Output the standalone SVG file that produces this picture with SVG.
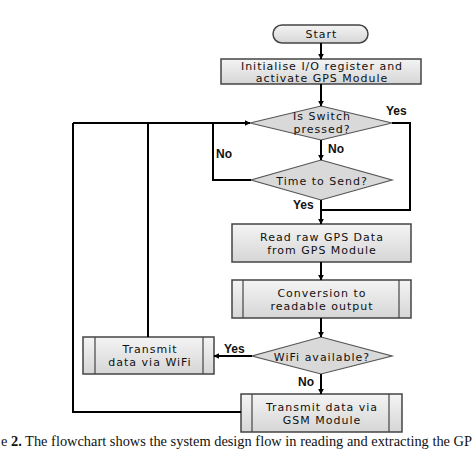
<svg xmlns="http://www.w3.org/2000/svg" width="474" height="474" viewBox="0 0 474 474">
<defs>
<linearGradient id="g" x1="0" y1="0" x2="0" y2="1">
<stop offset="0" stop-color="#f4f4f4"/>
<stop offset="1" stop-color="#d6d6d6"/>
</linearGradient>
<marker id="ah" viewBox="0 0 10 10" refX="9" refY="5" markerWidth="6" markerHeight="6" orient="auto" markerUnits="userSpaceOnUse">
<path d="M0,0 L10,5 L0,10 z" fill="#000"/>
</marker>
</defs>
<style>
.box{fill:url(#g);stroke:#444;stroke-width:1.5}
.dia{fill:#d9d9d9;stroke:#555;stroke-width:1.2}
.in{stroke:#444;stroke-width:1.2}
.t{font-family:"DejaVu Sans","Open Sans",sans-serif;font-size:11px;fill:#111;text-anchor:middle;letter-spacing:1px}
.lb{font-family:"Liberation Sans",Arial,sans-serif;font-size:12px;font-weight:bold;fill:#111}
.c{stroke:#000;stroke-width:2;fill:none}
.cap{font-family:"Liberation Serif","Times New Roman",serif;font-size:14.5px;fill:#111}
</style>
<rect width="474" height="474" fill="#fff"/>
<g id="start">
<rect class="box" x="273" y="25" width="95" height="18" rx="9"/>
<text class="t" x="321.5" y="38">Start</text>
</g>
<g id="init">
<rect class="box" x="221" y="59" width="200" height="25"/>
<text class="t" x="322" y="69.5">Initialise I/O register and</text>
<text class="t" x="322" y="82">activate GPS Module</text>
</g>
<g id="switch">
<polygon class="dia" points="321,106 392,123 321,140 250,123"/>
<text class="t" x="322" y="120">Is Switch</text>
<text class="t" x="322" y="133">pressed?</text>
</g>
<g id="time">
<polygon class="dia" points="321,160 392,180 321,200 251,180"/>
<text class="t" x="322" y="184.5">Time to Send?</text>
</g>
<g id="read">
<rect class="box" x="232" y="224" width="179" height="38"/>
<text class="t" x="322" y="241">Read raw GPS Data</text>
<text class="t" x="322" y="254">from GPS Module</text>
</g>
<g id="convert">
<rect class="box" x="232" y="280" width="179" height="38"/>
<line class="in" x1="243" y1="280" x2="243" y2="318"/>
<line class="in" x1="399" y1="280" x2="399" y2="318"/>
<text class="t" x="322" y="297">Conversion to</text>
<text class="t" x="322" y="310">readable output</text>
</g>
<g id="wifiq">
<polygon class="dia" points="321,337 392,356 321,374 252,356"/>
<text class="t" x="322" y="360.5">WiFi available?</text>
</g>
<g id="wifi">
<rect class="box" x="83" y="337" width="131" height="37"/>
<line class="in" x1="95" y1="337" x2="95" y2="374"/>
<line class="in" x1="203" y1="337" x2="203" y2="374"/>
<text class="t" x="150" y="353">Transmit</text>
<text class="t" x="150" y="366">data via WiFi</text>
</g>
<g id="gsm">
<rect class="box" x="241" y="394" width="161" height="38"/>
<line class="in" x1="252" y1="394" x2="252" y2="432"/>
<line class="in" x1="389" y1="394" x2="389" y2="432"/>
<text class="t" x="322" y="411">Transmit data via</text>
<text class="t" x="322" y="424">GSM Module</text>
</g>
<g id="connectors">
<line class="c" x1="321" y1="43" x2="321" y2="59" marker-end="url(#ah)"/>
<line class="c" x1="321" y1="84" x2="321" y2="106" marker-end="url(#ah)"/>
<line class="c" x1="321" y1="140" x2="321" y2="160" marker-end="url(#ah)"/>
<polyline class="c" points="392,123 410,123 410,210 321,210"/>
<line class="c" x1="321" y1="200" x2="321" y2="224" marker-end="url(#ah)"/>
<polyline class="c" points="251,180 213,180 213,123"/>
<polyline class="c" points="73,123 250,123" marker-end="url(#ah)"/>
<line class="c" x1="321" y1="262" x2="321" y2="280" marker-end="url(#ah)"/>
<line class="c" x1="321" y1="318" x2="321" y2="337" marker-end="url(#ah)"/>
<line class="c" x1="252" y1="356" x2="214" y2="356" marker-end="url(#ah)"/>
<line class="c" x1="148" y1="337" x2="148" y2="123"/>
<line class="c" x1="321" y1="374" x2="321" y2="394" marker-end="url(#ah)"/>
<polyline class="c" points="241,412 73,412 73,123"/>
<text class="lb" x="386" y="115">Yes</text>
<text class="lb" x="328" y="153">No</text>
<text class="lb" x="216" y="158">No</text>
<text class="lb" x="293" y="209">Yes</text>
<text class="lb" x="224" y="353">Yes</text>
<text class="lb" x="298" y="386">No</text>
</g>
<text class="cap" x="1" y="446" textLength="471" lengthAdjust="spacingAndGlyphs">e <tspan font-weight="bold">2.</tspan> The flowchart shows the system design flow in reading and extracting the GP</text>
</svg>
